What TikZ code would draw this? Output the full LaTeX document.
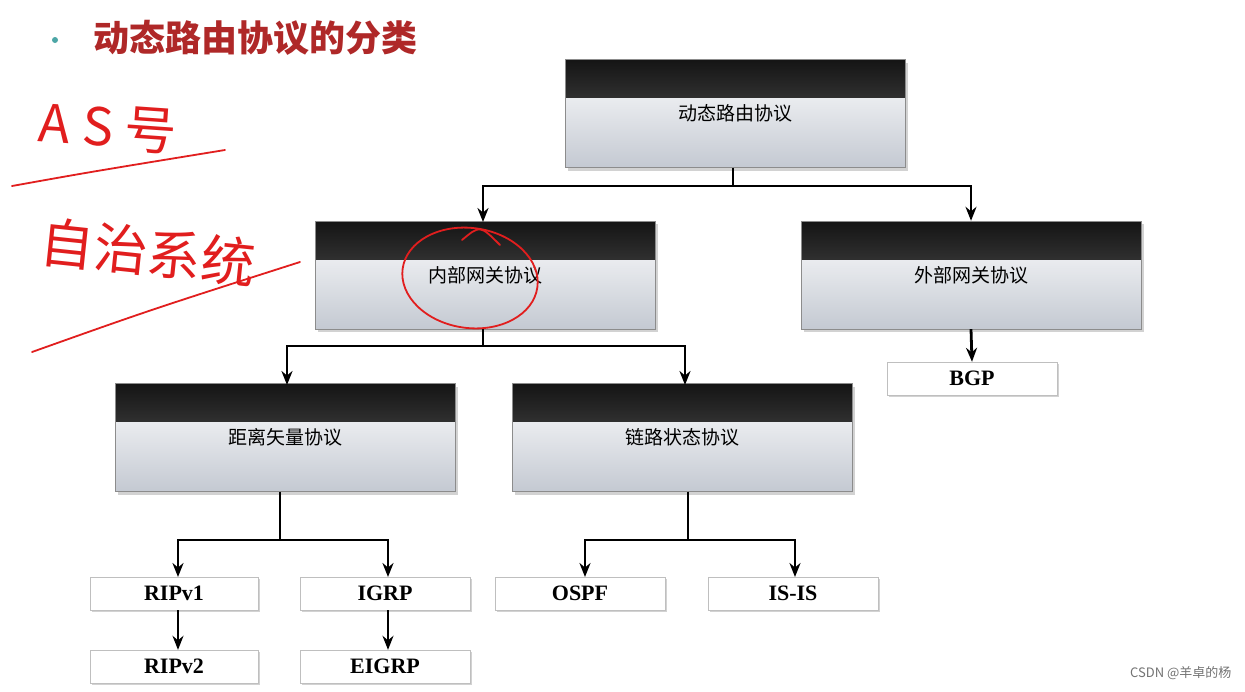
\documentclass[tikz,border=0pt]{standalone}
\usepackage{fontspec}
\setmainfont{Liberation Serif}
\newfontfamily\cjk{Noto Sans CJK SC}
\usetikzlibrary{shadows,arrows.meta}
\definecolor{titlered}{RGB}{175,40,40}
\definecolor{pen}{RGB}{225,30,30}
\definecolor{boxbot}{RGB}{196,201,210}
\tikzset{
 bigbox/.style={minimum width=340pt,minimum height=108pt,inner sep=0pt,
   top color=white,bottom color=boxbot,draw=black!45,
   drop shadow={shadow xshift=3pt,shadow yshift=-3pt,opacity=0.35},
   font=\cjk\fontsize{19}{21}\selectfont,
   path picture={\fill[top color=black!92,bottom color=black!62]
     (path picture bounding box.north west) rectangle ([yshift=-38pt]path picture bounding box.north east);}},
 smallbox/.style={minimum width=168pt,minimum height=33pt,inner sep=0pt,
   fill=white,draw=black!25,
   drop shadow={shadow xshift=2pt,shadow yshift=-2pt,opacity=0.35},
   font=\bfseries\fontsize{22}{24}\selectfont},
 conn/.style={line width=2.8pt,black},
 arr/.style={conn,-{Stealth[length=14pt,width=11pt]}}
}
\begin{document}
\begin{tikzpicture}[x=1pt,y=-1pt]
\useasboundingbox[fill=white] (0,0) rectangle (1245,691);
% title
\fill[teal!70] (55,40) circle (3pt);
\node[anchor=west,text=titlered,font=\cjk\bfseries\fontsize{36}{40}\selectfont] (title) at (90,38) {动态路由协议的分类};
% boxes
\node[bigbox] (root) at (735,113.5) {动态路由协议};
\node[bigbox] (igp) at (485,275) {内部网关协议};
\node[bigbox] (egp) at (971,275) {外部网关协议};
\node[bigbox] (dv) at (285,437.5) {距离矢量协议};
\node[bigbox] (ls) at (682,437.5) {链路状态协议};
\node[smallbox,minimum width=170pt] (bgp) at (972,378.5) {BGP};
\node[smallbox] (rip1) at (174,593.5) {RIPv1};
\node[smallbox,minimum width=170pt] (igrp) at (385,593.5) {IGRP};
\node[smallbox,minimum width=170pt] (ospf) at (580,593.5) {OSPF};
\node[smallbox,minimum width=170pt] (isis) at (793,593.5) {IS-IS};
\node[smallbox] (rip2) at (174,666.5) {RIPv2};
\node[smallbox,minimum width=170pt] (eigrp) at (385,666.5) {EIGRP};
% connectors
\coordinate (j1) at (733,186);
\draw[conn] (root.south -| j1) -- (j1);
\draw[arr] (j1) -| (483,222);
\draw[arr] (j1) -| (egp.north);
\coordinate (j2) at (483,346);
\draw[conn] (igp.south -| j2) -- (j2);
\draw[arr] (j2) -| (287,385);
\draw[arr] (j2) -| (685,385);
\coordinate (j3) at (280,540);
\draw[conn] (dv.south -| j3) -- (j3);
\draw[arr] (j3) -| (178,577);
\draw[arr] (j3) -| (388,577);
\coordinate (j4) at (688,540);
\draw[conn] (ls.south -| j4) -- (j4);
\draw[arr] (j4) -| (585,577);
\draw[arr] (j4) -| (795,577);
\draw[arr] (egp.south) -- (bgp.north);
\draw[arr] (rip1.south -| 178,0) -- (rip2.north -| 178,0);
\draw[arr] (igrp.south -| 388,0) -- (eigrp.north -| 388,0);
% handwriting
\node[text=pen,font=\cjk\fontsize{52}{56}\selectfont,rotate=-4] (hw1) at (108,128) {A S 号};
\node[text=pen,font=\cjk\fontsize{54}{58}\selectfont,rotate=-6] (hw2) at (148,252) {自治系统};
\draw[pen,line width=1.8pt,line cap=round] (12,186) .. controls (90,172) .. (225,150);
\draw[pen,line width=1.8pt,line cap=round] (32,352) .. controls (150,310) .. (300,262);
\draw[pen,line width=1.8pt,rotate around={-8:(470,278)}] (470,278) ellipse (68pt and 50pt);
\draw[pen,line width=1.8pt,line cap=round] (462,240) .. controls (480,225) .. (500,245);
% watermark
\node[anchor=east,text=black!55,font=\cjk\fontsize{13}{15}\selectfont] (wm) at (1235,673) {CSDN @羊卓的杨};
\end{tikzpicture}
\end{document}
